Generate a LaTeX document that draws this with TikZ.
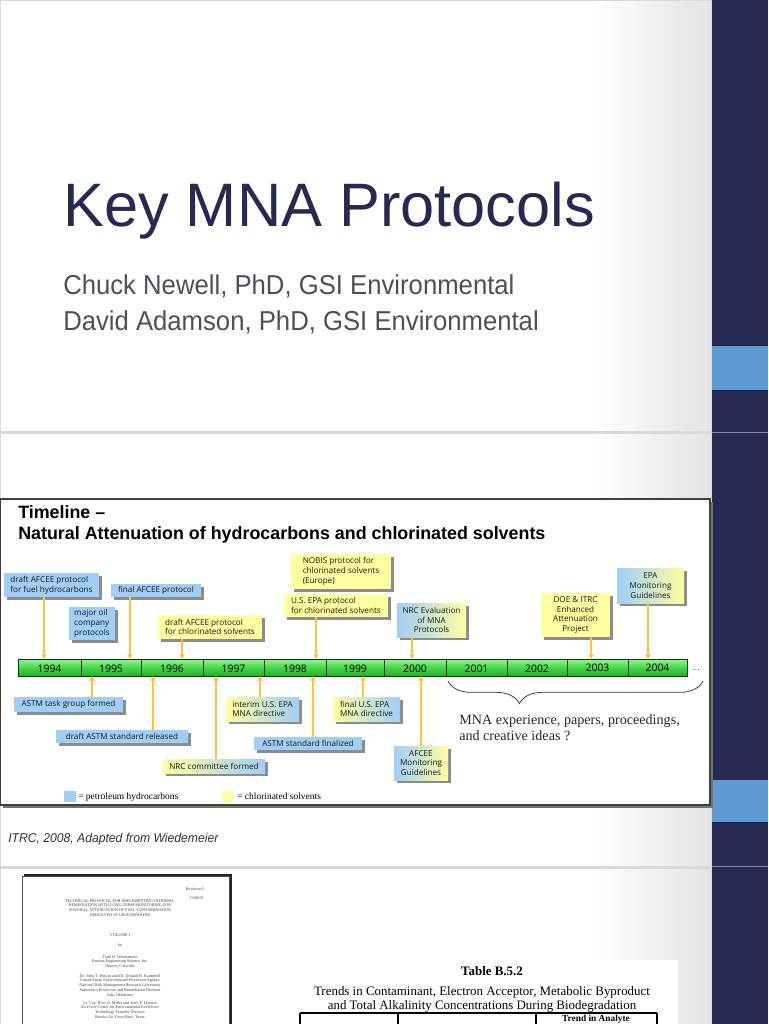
\documentclass[tikz,border=0pt]{standalone}
\usepackage{fontspec}
\setmainfont{Liberation Sans}
\newfontfamily\comic{Open Sans}
\newfontfamily\tms{Liberation Serif}
\usetikzlibrary{shadows,decorations.pathreplacing,arrows.meta}
\definecolor{navy}{RGB}{38,41,81}
\definecolor{band}{RGB}{93,155,210}
\definecolor{sepc}{RGB}{217,217,217}
\definecolor{edgec}{RGB}{228,228,228}
\definecolor{subgray}{RGB}{80,78,92}
\definecolor{bblue}{RGB}{160,206,247}
\definecolor{byel}{RGB}{255,255,160}
\definecolor{arrc}{RGB}{255,195,60}
\definecolor{gtop}{RGB}{150,245,150}
\definecolor{gmid}{RGB}{70,215,70}
\definecolor{gbot}{RGB}{35,175,35}
\tikzset{
  tb/.style={inner sep=0pt, font=\comic\fontsize{6.1}{7.3}\selectfont, text=black!90,
    drop shadow={shadow xshift=2.5pt, shadow yshift=-2.5pt, fill=black!45, opacity=1}},
  bluebox/.style={tb, fill=bblue},
  yelbox/.style={tb, fill=byel},
  bybox/.style={tb, left color=bblue, right color=byel},
  ybbox/.style={tb, left color=byel, right color=bblue},
  arr/.style={draw=arrc, line width=1.1pt, -{Triangle[length=3.5pt,width=4pt]}},
  yr/.style={font=\comic\fontsize{7.8}{8}\selectfont, inner sep=0pt},
  doctxt/.style={font=\tms\fontsize{3.1}{3.6}\selectfont, inner sep=0pt, text=black!75},
}
% style, name, x1, y1, x2, y2, alignment, text
\newcommand\tbox[8]{\node[#1, minimum width={(#5-#3)*0.75pt}, minimum height={(#6-#4)*0.75pt}, align=#7] (#2) at ({(#3+#5)/2},{(#4+#6)/2}) {#8};}
\begin{document}
\begin{tikzpicture}[x=0.75pt,y=-0.75pt]
\useasboundingbox (0,0) rectangle (768,1024);
\clip (0,0) rectangle (768,1024);
% ---------- slide backgrounds ----------
\fill[white] (0,0) rectangle (711,1024);
\shade[left color=white, right color=edgec] (590,0) rectangle (711,431);
\shade[left color=white, right color=edgec] (590,434) rectangle (711,866);
\shade[left color=white, right color=edgec] (590,869) rectangle (711,1024);
\fill[sepc] (0,430.5) rectangle (711,434);
\fill[sepc] (0,865.5) rectangle (711,869);
\fill[sepc] (0,0) rectangle (711,1.2);
\fill[sepc] (0,0) rectangle (1.2,1024);
% ---------- navy side bar ----------
\fill[navy] (711,0) rectangle (768,1024);
\fill[band] (711,346) rectangle (768,390);
\fill[band] (711,780) rectangle (768,822);
\draw[navy!55!white, line width=0.6pt] (711,432.5) -- (768,432.5);
\draw[navy!55!white, line width=0.6pt] (711,866.5) -- (768,866.5);
\draw[white!70!gray, line width=0.5pt] (711,0) -- (711,1024);
% ---------- slide 1 ----------
\node[anchor=base west, inner sep=0pt, text=navy, font=\fontsize{46}{50}\selectfont] (title) at (63,226) {Key MNA Protocols};
\node[anchor=base west, inner sep=0pt, text=subgray, font=\fontsize{20.5}{24}\selectfont, xscale=0.94] (auth1) at (63,294) {Chuck Newell, PhD, GSI Environmental};
\node[anchor=base west, inner sep=0pt, text=subgray, font=\fontsize{20.5}{24}\selectfont, xscale=0.94] (auth2) at (63,330) {David Adamson, PhD, GSI Environmental};
% ---------- slide 2: timeline picture ----------
\fill[black!55] (3,502) rectangle (713,808);
\draw[black!75, line width=0.9pt, fill=white] (0,499) rectangle (710,805);
\node[anchor=base west, inner sep=0pt, font=\bfseries\fontsize{13.4}{15}\selectfont] (tl1) at (18,518) {Timeline --};
\node[anchor=base west, inner sep=0pt, font=\bfseries\fontsize{13.4}{15}\selectfont] (tl2) at (18,539) {Natural Attenuation of hydrocarbons and chlorinated solvents};
% bar
\shade[top color=gtop, bottom color=gbot, middle color=gmid] (18,659) rectangle (687,676);
\draw[black!60!green!60!black, line width=0.5pt] (18,659) rectangle (687,676);
\foreach \xx in {81,141,203,264,326,384,446,507,567,628}{
  \draw[black!80, line width=0.6pt] (\xx,659) -- (\xx,676);
}
\node[yr] (y94) at (49.5,668.5) {1994};
\node[yr] (y95) at (111,668.5) {1995};
\node[yr] (y96) at (172,668.5) {1996};
\node[yr] (y97) at (233.5,668.5) {1997};
\node[yr] (y98) at (295,668.5) {1998};
\node[yr] (y99) at (355,668.5) {1999};
\node[yr] (y00) at (415,668.5) {2000};
\node[yr] (y01) at (476.5,668.5) {2001};
\node[yr] (y02) at (537,668.5) {2002};
\node[yr] (y03) at (597.5,667.5) {2003};
\node[yr] (y04) at (657.5,667.5) {2004};
\node[inner sep=0pt, font=\fontsize{7}{8}\selectfont, text=black!70] (dots) at (696,670) {...};
% boxes above
\tbox{bluebox}{b1}{4}{573}{99}{597}{left}{draft AFCEE protocol\\for fuel hydrocarbons}
\tbox{bluebox}{b2}{69}{607}{115}{640}{left}{major oil\\company\\protocols}
\tbox{bluebox}{b3}{111}{584}{201}{597}{left}{final AFCEE protocol}
\tbox{yelbox}{b4}{158}{615}{262}{639}{left}{draft AFCEE protocol\\for chlorinated solvents}
\tbox{yelbox}{b5}{291}{554}{391}{589}{left}{NOBIS protocol for\\chlorinated solvents\\(Europe)}
\tbox{yelbox}{b6}{284}{594}{388}{617}{left}{U.S. EPA protocol\\for chlorinated solvents}
\tbox{bybox}{b7}{397}{603}{466}{637}{center}{NRC Evaluation\\of MNA\\Protocols}
\tbox{yelbox}{b8}{541}{593}{610}{637}{center}{DOE \& ITRC\\Enhanced\\Attenuation\\Project}
\tbox{bybox}{b9}{617}{568}{684}{603}{center}{EPA\\Monitoring\\Guidelines}
% boxes below
\tbox{bluebox}{b10}{14}{697}{123}{712}{left}{ASTM task group formed}
\tbox{bluebox}{b11}{56}{730}{188}{743}{left}{draft ASTM standard released}
\tbox{ybbox}{b12}{163}{759}{265}{773}{left}{NRC committee formed}
\tbox{ybbox}{b13}{226}{697}{299}{721}{left}{interim U.S. EPA\\MNA directive}
\tbox{bluebox}{b14}{254}{737}{362}{750}{left}{ASTM standard finalized}
\tbox{ybbox}{b15}{333}{697}{400}{721}{left}{final U.S. EPA\\MNA directive}
\tbox{bybox}{b16}{394}{746}{448}{780}{center}{AFCEE\\Monitoring\\Guidelines}
% arrow targets on the bar
\coordinate (t1) at (44,659);
\coordinate (t3) at (130,659);
\coordinate (t4) at (182,659);
\coordinate (t6) at (316,659);
\coordinate (t7) at (412,659);
\coordinate (t8) at (591,659);
\coordinate (t9) at (648,659);
\coordinate (u10) at (92,676);
\coordinate (u11) at (153,676);
\coordinate (u12) at (216,676);
\coordinate (u13) at (260,676);
\coordinate (u14) at (313,676);
\coordinate (u15) at (363,676);
\coordinate (u16) at (421,676);
\draw[arr] (b1.south -| t1) -- (t1);
\draw[arr] (b3.south -| t3) -- (t3);
\draw[arr] (b4.south -| t4) -- (t4);
\draw[arr] (b6.south -| t6) -- (t6);
\draw[arr] (b7.south -| t7) -- (t7);
\draw[arr] (b8.south -| t8) -- (t8);
\draw[arr] (b9.south -| t9) -- (t9);
\draw[arr] (b10.north -| u10) -- (u10);
\draw[arr] (b11.north -| u11) -- (u11);
\draw[arr] (b12.north -| u12) -- (u12);
\draw[arr] (b13.north -| u13) -- (u13);
\draw[arr] (b14.north -| u14) -- (u14);
\draw[arr] (b15.north -| u15) -- (u15);
\draw[arr] (b16.north -| u16) -- (u16);
% brace and note
\coordinate (br1) at (448,681);
\coordinate (br2) at (703,681);
\draw[black!75, line width=0.6pt, decorate, decoration={brace, mirror, amplitude=17pt, aspect=0.28}] (br1) -- (br2);
\node[anchor=north west, inner sep=0pt, align=left, font=\tms\fontsize{10.6}{11.6}\selectfont, text=black!85] (note) at (459,714.5) {MNA experience, papers, proceedings,\\and creative ideas ?};
% legend
\fill[bblue] (64,791) rectangle (76,802);
\node[anchor=base west, inner sep=0pt, font=\tms\fontsize{7.1}{8}\selectfont] (leg1) at (78,799.5) {= petroleum hydrocarbons};
\fill[byel] (222,791) rectangle (233,802);
\node[anchor=base west, inner sep=0pt, font=\tms\fontsize{7.1}{8}\selectfont] (leg2) at (237,799.5) {= chlorinated solvents};
% citation
\node[anchor=base west, inner sep=0pt, text=black!80, font=\itshape\fontsize{9.6}{11}\selectfont, xscale=0.95] (cite) at (8,842) {ITRC, 2008, Adapted from Wiedemeier};
% ---------- slide 3 ----------
\fill[black!85] (24,874) rectangle (232,1030);
\draw[black!70, line width=0.5pt, fill=white] (22,876) rectangle (229.5,1030);
\node[doctxt, anchor=base east] (d1) at (204,890) {Revision 0};
\node[doctxt, anchor=base east] (d2) at (204,899) {11/08/95};
\node[doctxt, align=center, anchor=north] (d3) at (120,899) {TECHNICAL PROTOCOL FOR IMPLEMENTING INTRINSIC\\REMEDIATION WITH LONG-TERM MONITORING FOR\\NATURAL ATTENUATION OF FUEL CONTAMINATION\\DISSOLVED IN GROUNDWATER};
\node[doctxt, anchor=base] (d4) at (120,936) {VOLUME I};
\node[doctxt, anchor=base] (d5) at (120,946) {by};
\node[doctxt, align=center, anchor=north] (d6) at (120,955) {Todd H. Wiedemeier\\Parsons Engineering Science, Inc.\\Denver, Colorado};
\node[doctxt, align=center, anchor=north] (d7) at (120,974) {Dr. John T. Wilson and Dr. Donald H. Kampbell\\United States Environmental Protection Agency\\National Risk Management Research Laboratory\\Subsurface Protection and Remediation Division\\Ada, Oklahoma};
\node[doctxt, align=center, anchor=north] (d8) at (120,1001) {Lt. Col. Ross N. Miller and Jerry E. Hansen\\Air Force Center for Environmental Excellence\\Technology Transfer Division\\Brooks Air Force Base, Texas};
% table image
\fill[white] (270,960) rectangle (678,1024);
\node[anchor=base, inner sep=0pt, font=\tms\bfseries\fontsize{9.7}{10}\selectfont] (tabt) at (492,975) {Table B.5.2};
\node[anchor=base, inner sep=0pt, font=\tms\fontsize{9.7}{10}\selectfont] (tab1) at (482,995) {Trends in Contaminant, Electron Acceptor, Metabolic Byproduct};
\node[anchor=base, inner sep=0pt, font=\tms\fontsize{9.7}{10}\selectfont] (tab2) at (482,1009) {and Total Alkalinity Concentrations During Biodegradation};
\coordinate (tl) at (300,1013);
\coordinate (tr) at (657,1013);
\draw[black, line width=0.9pt] (tl) -- (tr);
\foreach \xx in {300,398,536,657}{ \draw[black, line width=0.9pt] (\xx,1013) -- (\xx,1026); }
\node[anchor=base, inner sep=0pt, font=\tms\bfseries\fontsize{7}{8}\selectfont] (tab3) at (596,1021.5) {Trend in Analyte};
\end{tikzpicture}
\end{document}
